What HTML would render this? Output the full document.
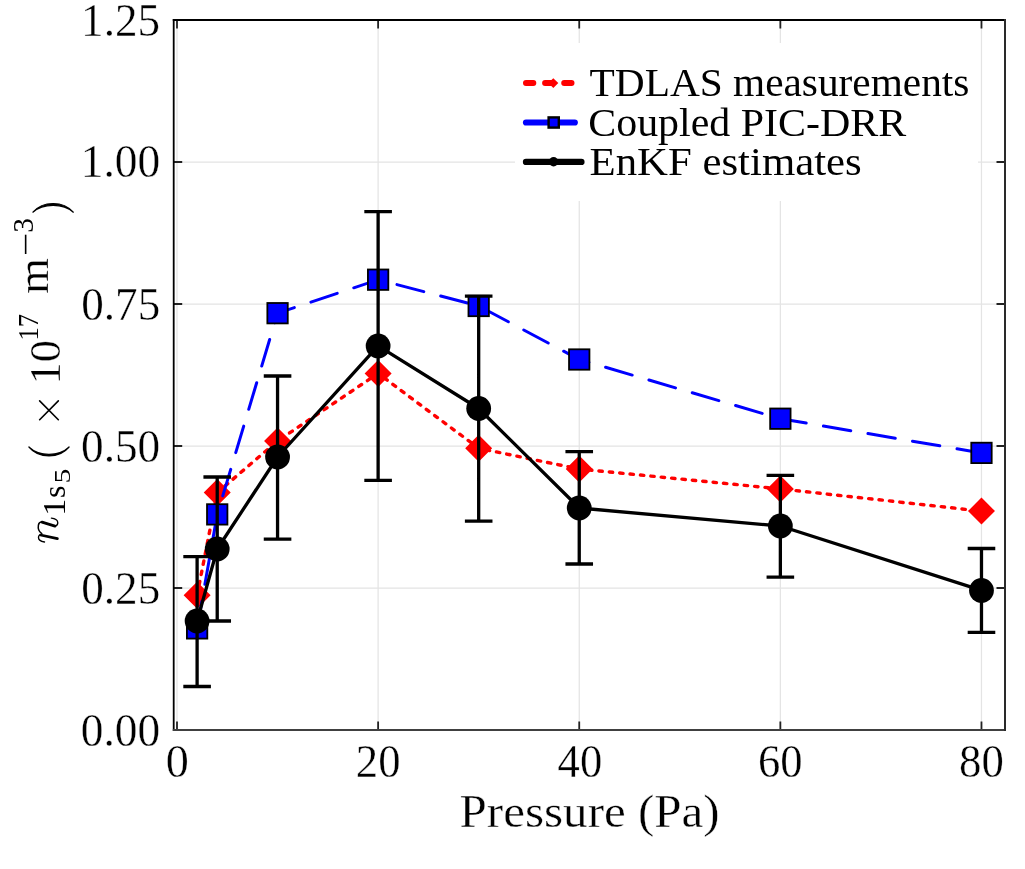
<!DOCTYPE html><html><head><meta charset="utf-8"><style>html,body{margin:0;padding:0;background:#fff;width:1025px;height:869px;overflow:hidden}svg{display:block;will-change:transform}text{font-family:"Liberation Serif",serif;fill:#000}.t{stroke:#fff;stroke-width:0.35px}.t2{}</style></head><body>
<svg width="1025" height="869" viewBox="0 0 1025 869">
<rect x="0" y="0" width="1025" height="869" fill="#fff"/>
<path d="M177.00 20.0V730.0M378.12 20.0V730.0M579.24 20.0V730.0M780.36 20.0V730.0M981.48 20.0V730.0M173.7 730.00H1005.0M173.7 588.00H1005.0M173.7 446.00H1005.0M173.7 304.00H1005.0M173.7 162.00H1005.0M173.7 20.00H1005.0" stroke="#e4e4e4" stroke-width="1.25" fill="none"/>
<path d="M177.00 730.0v-8.5M177.00 20.0v8.5M378.12 730.0v-8.5M378.12 20.0v8.5M579.24 730.0v-8.5M579.24 20.0v8.5M780.36 730.0v-8.5M780.36 20.0v8.5M981.48 730.0v-8.5M981.48 20.0v8.5M173.7 730.00h8.5M1005.0 730.00h-8.5M173.7 588.00h8.5M1005.0 588.00h-8.5M173.7 446.00h8.5M1005.0 446.00h-8.5M173.7 304.00h8.5M1005.0 304.00h-8.5M173.7 162.00h8.5M1005.0 162.00h-8.5M173.7 20.00h8.5M1005.0 20.00h-8.5" stroke="#222" stroke-width="1.8" fill="none"/>
<path d="M172.79999999999998 20.0H1006.0" stroke="#000" stroke-width="1.8"/>
<path d="M173.7 19.1V731.0" stroke="#000" stroke-width="1.8"/>
<path d="M172.79999999999998 730.0H1006.0" stroke="#404040" stroke-width="2"/>
<path d="M1005.0 19.1V731.0" stroke="#2a2a2a" stroke-width="2"/>
<polyline points="197.11,595.3 217.22,492.6 277.56,441 378.12,373.4 478.68,448.3 579.24,469 780.36,488.9 981.48,511.1" fill="none" stroke="#f00" stroke-width="3.4" stroke-dasharray="3.4 7.029" stroke-dashoffset="-0.3" stroke-linecap="round"/>
<path d="M197.11 581.8l13.5 13.5l-13.5 13.5l-13.5 -13.5zM217.22 479.1l13.5 13.5l-13.5 13.5l-13.5 -13.5zM277.56 427.5l13.5 13.5l-13.5 13.5l-13.5 -13.5zM378.12 359.9l13.5 13.5l-13.5 13.5l-13.5 -13.5zM478.68 434.8l13.5 13.5l-13.5 13.5l-13.5 -13.5zM579.24 455.5l13.5 13.5l-13.5 13.5l-13.5 -13.5zM780.36 475.4l13.5 13.5l-13.5 13.5l-13.5 -13.5zM981.48 497.6l13.5 13.5l-13.5 13.5l-13.5 -13.5z" fill="#f00"/>
<polyline points="197.11,628.4 217.22,514.4 277.56,313.2 378.12,279.7 478.68,306 579.24,359.5 780.36,418.7 981.48,452.9" fill="none" stroke="#00f" stroke-width="3" stroke-dasharray="27.7 17.47" stroke-dashoffset="0.4" stroke-linecap="round"/>
<rect x="186.91" y="618.20" width="20.4" height="20.4" fill="#00f" stroke="#000" stroke-width="1.8"/>
<rect x="207.02" y="504.20" width="20.4" height="20.4" fill="#00f" stroke="#000" stroke-width="1.8"/>
<rect x="267.36" y="303.00" width="20.4" height="20.4" fill="#00f" stroke="#000" stroke-width="1.8"/>
<rect x="367.92" y="269.50" width="20.4" height="20.4" fill="#00f" stroke="#000" stroke-width="1.8"/>
<rect x="468.48" y="295.80" width="20.4" height="20.4" fill="#00f" stroke="#000" stroke-width="1.8"/>
<rect x="569.04" y="349.30" width="20.4" height="20.4" fill="#00f" stroke="#000" stroke-width="1.8"/>
<rect x="770.16" y="408.50" width="20.4" height="20.4" fill="#00f" stroke="#000" stroke-width="1.8"/>
<rect x="971.28" y="442.70" width="20.4" height="20.4" fill="#00f" stroke="#000" stroke-width="1.8"/>
<path d="M197.11 556.7V686.5M183.31 556.7h27.6M183.31 686.5h27.6M217.22 477V621M203.42 477h27.6M203.42 621h27.6M277.56 376V539.2M263.76 376h27.6M263.76 539.2h27.6M378.12 211.7V480.3M364.32 211.7h27.6M364.32 480.3h27.6M478.68 296.2V521.2M464.88 296.2h27.6M464.88 521.2h27.6M579.24 451.7V564M565.44 451.7h27.6M565.44 564h27.6M780.36 475.4V577.2M766.56 475.4h27.6M766.56 577.2h27.6M981.48 548.5V632.3M967.68 548.5h27.6M967.68 632.3h27.6" stroke="#000" stroke-width="3.3" fill="none"/>
<polyline points="197.11,621 217.22,549 277.56,457 378.12,345.9 478.68,408.5 579.24,508 780.36,526 981.48,590.4" fill="none" stroke="#000" stroke-width="3.3" stroke-linejoin="round"/>
<circle cx="197.11" cy="621" r="12.4"/>
<circle cx="217.22" cy="549" r="12.4"/>
<circle cx="277.56" cy="457" r="12.4"/>
<circle cx="378.12" cy="345.9" r="12.4"/>
<circle cx="478.68" cy="408.5" r="12.4"/>
<circle cx="579.24" cy="508" r="12.4"/>
<circle cx="780.36" cy="526" r="12.4"/>
<circle cx="981.48" cy="590.4" r="12.4"/>
<rect x="515" y="43" width="463" height="158" fill="#fff"/>
<path d="M523 83H574" stroke="#f00" stroke-width="6" stroke-dasharray="7.3 11.8" stroke-dashoffset="0" stroke-linecap="round" transform="translate(3,0)"/>
<path d="M553.3 78.2l5 4.9l-5 4.9l-5 -4.9z" fill="#f00"/>
<path d="M526 122.5H574.8" stroke="#00f" stroke-width="6.2" stroke-linecap="round"/>
<rect x="548.6" y="117.4" width="10.2" height="10.2" fill="#00f" stroke="#000" stroke-width="2.4"/>
<path d="M526 161.9H581.4" stroke="#000" stroke-width="6.3" stroke-linecap="round"/>
<circle cx="553.6" cy="161.8" r="4.7"/>
<text transform="translate(589.556,96.4) scale(1.0436,1)" font-size="39.6">TDLAS <tspan font-size="39.60">measurements</tspan></text>
<text transform="translate(588.181,135.6) scale(1.0594,1)" font-size="39.6">C<tspan font-size="39.60">oupled</tspan> PIC-DRR</text>
<text transform="translate(589.519,175.1) scale(1.0811,1)" font-size="39.6">E<tspan font-size="39.60">n</tspan>KF <tspan font-size="39.60">estimates</tspan></text>
<text transform="translate(81.089,35.83) scale(0.9598,1)" font-size="47.02" class="t">1.25</text>
<text transform="translate(80.761,177.474) scale(0.9808,1)" font-size="46.32" class="t">1.00</text>
<text transform="translate(81.244,319.571) scale(0.9716,1)" font-size="46.47" class="t">0.75</text>
<text transform="translate(81.039,461.571) scale(0.9742,1)" font-size="46.47" class="t">0.50</text>
<text transform="translate(81.244,603.571) scale(0.9716,1)" font-size="46.47" class="t">0.25</text>
<text transform="translate(80.834,745.668) scale(0.9736,1)" font-size="46.62" class="t">0.00</text>
<text transform="translate(165.702,776.562) scale(0.9846,1)" font-size="46.91" class="t">0</text>
<text transform="translate(355.863,776.559) scale(0.9493,1)" font-size="47.06" class="t">20</text>
<text transform="translate(557.556,776.556) scale(0.9465,1)" font-size="47.21" class="t">40</text>
<text transform="translate(757.963,776.559) scale(0.9493,1)" font-size="47.06" class="t">60</text>
<text transform="translate(959.059,776.559) scale(0.9516,1)" font-size="47.06" class="t">80</text>
<text transform="translate(459.579,827.0) scale(1.0779,1)" font-size="45.50" class="t">Pressure (Pa)</text>
<g fill="none" stroke="#000" stroke-linecap="round"><path d="M44.5 542.0C40.5 541.3 38.3 539.8 38.5 537.2C38.7 535.3 39.8 534.8 41.0 535.0" stroke-width="1.4"/><path d="M40.5 535.0L57.4 538.6" stroke-width="2.7"/><path d="M41.8 533.6C38.6 531.5 38.0 527.5 38.4 525.2C38.8 522.8 40.5 521.8 43.0 522.2" stroke-width="1.5"/><path d="M42.0 522.1L55.0 526.1" stroke-width="2.8"/><path d="M54.8 526.2C57.0 525.6 58.0 524.0 57.7 522.0C57.3 519.8 55.0 518.5 51.4 518.1" stroke-width="1.35"/></g>
<text class="t2" transform="translate(64.7,515.86) rotate(-90) scale(1.058,1)" font-size="32.12" >1</text>
<text class="t2" transform="translate(64.89,497.99) rotate(-90) scale(1.03,1)" font-size="31.25" >s</text>
<text class="t2" transform="translate(69.66,483.49) rotate(-90) scale(1.259,1)" font-size="23.64" >5</text>
<path d="M28.9 447C38.9 458.87 59.1 458.87 69.1 447C59.1 456.73 38.9 456.73 28.9 447z" fill="#000" stroke="#000" stroke-width="1.2" stroke-linejoin="round"/>
<path d="M39.64 400.83L58.33 419.69M58.33 400.83L39.64 419.69" stroke="#000" stroke-width="1.6" stroke-linecap="round"/>
<text class="t2" transform="translate(59.73,384.49) rotate(-90) scale(1.016,1)" font-size="43.68" style="stroke:#fff;stroke-width:0.3px">10</text>
<text class="t2" transform="translate(37.5,340.38) rotate(-90) scale(0.878,1)" font-size="30.15" >17</text>
<text class="t2" transform="translate(47.8,293.93) rotate(-90) scale(1.026,1)" font-size="45.11" style="stroke:#fff;stroke-width:0.3px">m</text>
<rect x="24.85" y="234.7" width="1.6" height="19.3" fill="#000"/>
<text class="t2" transform="translate(33.3,232.78) rotate(-90) scale(0.969,1)" font-size="30.45" >3</text>
<path d="M32.9 212.2C42.9 200.6 63.3 200.6 73.3 212.2C63.3 203.0 42.9 203.0 32.9 212.2z" fill="#000" stroke="#000" stroke-width="1.2" stroke-linejoin="round"/>
</svg></body></html>
